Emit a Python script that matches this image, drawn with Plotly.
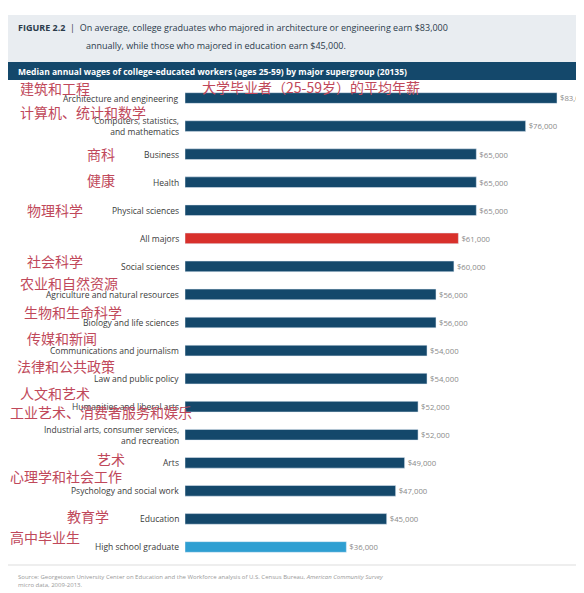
import plotly.graph_objects as go

categories = ["Architecture and engineering", "Computers, statistics,<br>and mathematics", "Business", "Health",
              "Physical sciences", "All majors", "Social sciences", "Agriculture and natural resources",
              "Biology and life sciences", "Communications and journalism", "Law and public policy",
              "Humanities and liberal arts", "Industrial arts, consumer services,<br>and recreation", "Arts",
              "Psychology and social work", "Education", "High school graduate"]
wages = [83000, 76000, 65000, 65000, 65000, 61000, 60000, 56000, 56000, 54000, 54000, 52000, 52000, 49000, 47000, 45000, 36000]
chinese = ["建筑和工程", "计算机、统计和数学", "商科", "健康", "物理科学", "", "社会科学", "农业和自然资源",
           "生物和生命科学", "传媒和新闻", "法律和公共政策", "人文和艺术", "工业艺术、消费者服务和娱乐", "艺术",
           "心理学和社会工作", "教育学", "高中毕业生"]
chinese_x = [18, 18, 85, 85, 25, 0, 25, 18, 22, 25, 15, 18, 0, 95, 5, 65, 0]
chinese_dy = [10, 14, 0, 2, 0, 0, 5, 11, 11, 13, 13, 14, 23, 4, 15, 3, 10]

colors = []
for c in categories:
    colors.append("#d8302b" if c == "All majors" else "#2f9fd2" if c == "High school graduate" else "#14486b")

W, H = 584, 593
O = 8  # page offset
def px(v): return (v - O) / W
def py(v): return 1 - (v - O) / H

ids = list(range(len(categories)))
fig = go.Figure(go.Bar(y=ids, x=wages, orientation="h", marker_color=colors, width=0.38,
                       text=[f"${v:,}" for v in wages], textposition="outside", cliponaxis=False,
                       textfont=dict(size=8, color="#8a8a8a", family="Open Sans")))

anns = []
for i, c in enumerate(categories):
    anns.append(dict(x=px(181), xref="paper", y=i, yref="y", text=c, showarrow=False, xanchor="right",
                     align="right", font=dict(size=8.5, color="#3a3a3a", family="Open Sans")))
    if chinese[i]:
        anns.append(dict(x=max(px(chinese_x[i]), 0), xref="paper", y=i, yref="y", yshift=chinese_dy[i], text=chinese[i],
                         showarrow=False, xanchor="left", font=dict(size=14, color="#c0485a", family="Noto Sans CJK SC")))
anns += [
    dict(x=px(200), xref="paper", y=py(87), yref="paper", yanchor="middle", text="大学毕业者（25-59岁）的平均年薪", showarrow=False,
         xanchor="left", font=dict(size=14, color="#c0485a", family="Noto Sans CJK SC")),
    dict(x=px(16), xref="paper", y=py(28), yref="paper", yanchor="middle", text="<b>FIGURE 2.2</b>  |  On average, college graduates who majored in architecture or engineering earn $83,000",
         showarrow=False, xanchor="left", font=dict(size=9, color="#2b3b4b", family="Open Sans")),
    dict(x=px(84), xref="paper", y=py(46), yref="paper", yanchor="middle", text="annually, while those who majored in education earn $45,000.",
         showarrow=False, xanchor="left", font=dict(size=9, color="#2b3b4b", family="Open Sans")),
    dict(x=px(16), xref="paper", y=py(71), yref="paper", yanchor="middle", text="<b>Median annual wages of college-educated workers (ages 25-59) by major supergroup (20135)</b>",
         showarrow=False, xanchor="left", font=dict(size=8.5, color="white", family="Open Sans")),
    dict(x=px(16), xref="paper", y=py(581), yref="paper", yanchor="middle", text="Source: Georgetown University Center on Education and the Workforce analysis of U.S. Census Bureau, <i>American Community Survey</i><br>micro data, 2009-2013.",
         showarrow=False, xanchor="left", align="left", font=dict(size=6, color="#999", family="Open Sans")),
]

shapes = [
    dict(type="rect", xref="paper", yref="paper", x0=px(8), x1=1, y0=py(62), y1=py(15), fillcolor="#e9edf1", line_width=0, layer="below"),
    dict(type="rect", xref="paper", yref="paper", x0=px(8), x1=1, y0=py(80), y1=py(62), fillcolor="#14486b", line_width=0, layer="below"),
    dict(type="line", xref="paper", yref="paper", x0=px(8), x1=1, y0=py(565), y1=py(565), line=dict(color="#ddd", width=1)),
]

fig.update_layout(width=W, height=H, margin=dict(l=0, r=0, t=0, b=0), paper_bgcolor="white", plot_bgcolor="white",
                  showlegend=False, annotations=anns, shapes=shapes,
                  xaxis=dict(domain=[px(185), 1], range=[0, (W - 185 + O) / 372 * 83000], visible=False),
                  yaxis=dict(domain=[py(561), py(84)], range=[16.5, -0.5], visible=False))
fig.write_html("out.html")
